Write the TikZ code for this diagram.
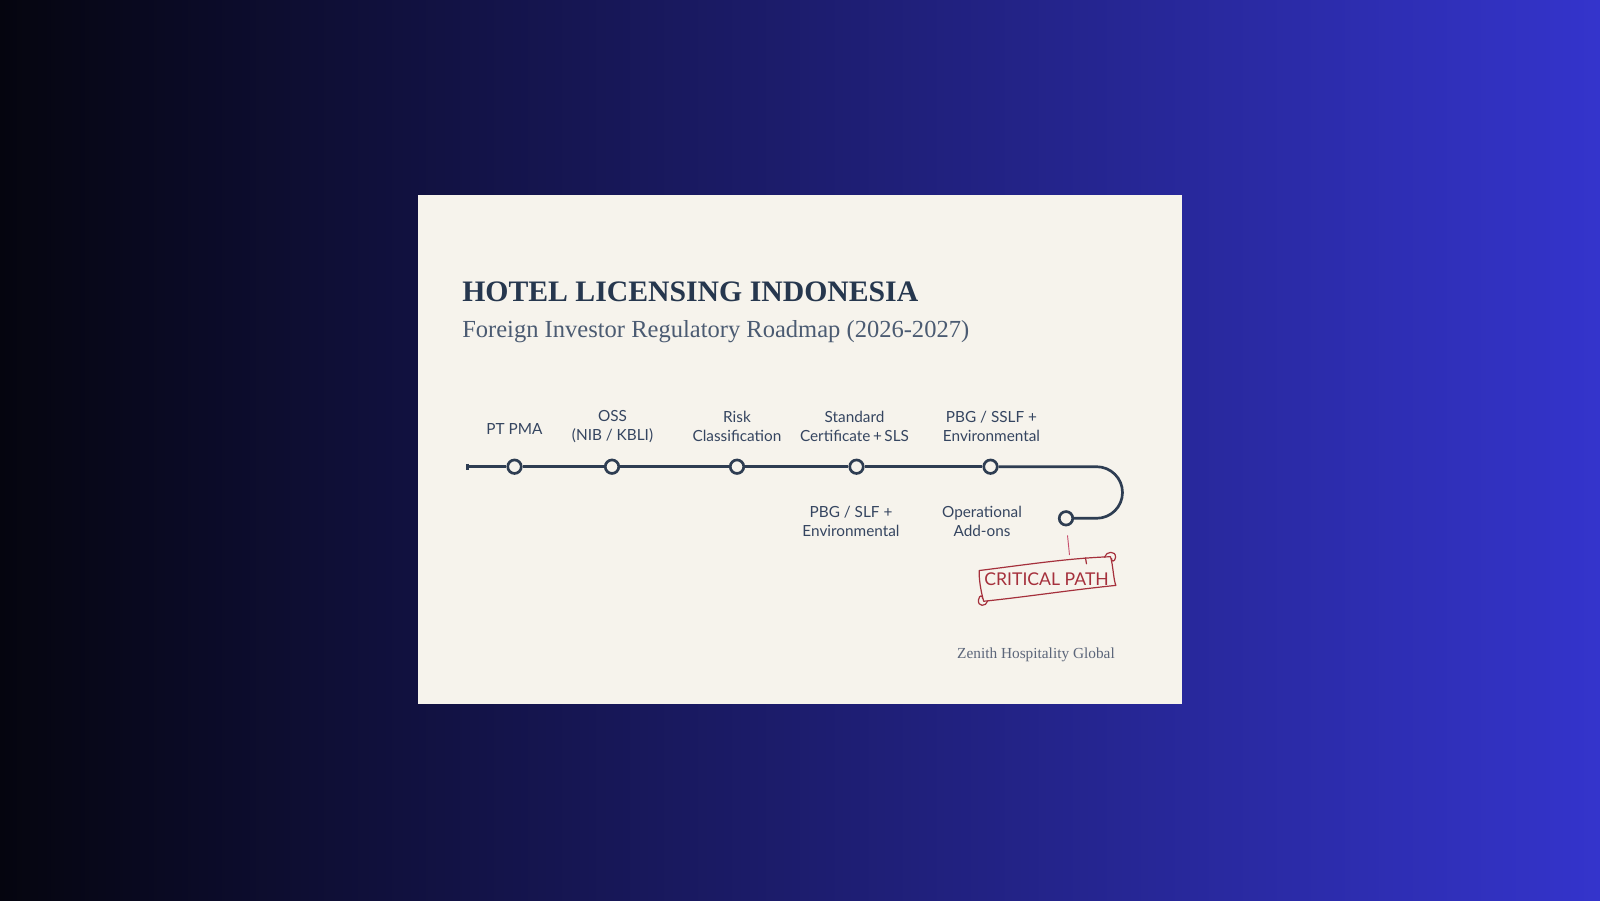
\documentclass[tikz,border=0pt]{standalone}
\usepackage{fontspec}
\setmainfont{Liberation Serif}
\newfontfamily\labelfont{Lato}
\definecolor{bgL}{HTML}{05050F}
\definecolor{bgR}{HTML}{3434CC}
\definecolor{card}{HTML}{F6F3EC}
\definecolor{titlec}{HTML}{26374E}
\definecolor{subc}{HTML}{4B5B72}
\definecolor{labc}{HTML}{354560}
\definecolor{linec}{HTML}{2E3D52}
\definecolor{stampc}{HTML}{A5303C}
\definecolor{pinc}{HTML}{C8506E}
\definecolor{footc}{HTML}{5C667A}
\tikzset{
  milestone/.style={circle, draw=linec, line width=2pt, fill=card, minimum size=13.5*0.75pt, inner sep=0pt},
  track/.style={draw=linec, line width=2pt},
  lbl/.style={text=labc, align=center, inner sep=0pt, font=\labelfont\fontsize{11.5pt}{14.6pt}\selectfont},
  stampline/.style={draw=stampc, line width=0.9pt, line join=round, line cap=round},
}
\begin{document}
\begin{tikzpicture}[x=0.75pt, y=-0.75pt]
\useasboundingbox (0,0) rectangle (1600,900);
\shade[left color=bgL, right color=bgR] (0,0) rectangle (1600,900);
\fill[card] (417.5,195) rectangle (1182,704);

% title
\node[anchor=base west, inner sep=0pt, text=titlec, font=\bfseries\fontsize{22.3pt}{26pt}\selectfont] (title) at (462,301) {HOTEL LICENSING INDONESIA};
\node[anchor=base west, inner sep=0pt, text=subc, font=\fontsize{18.4pt}{22pt}\selectfont] (subtitle) at (462,337.5) {Foreign Investor Regulatory Roadmap (2026-2027)};

% timeline
\coordinate (s) at (467.5,466.7);
\node[milestone] (c1) at (514.5,466.7) {};
\node[milestone] (c2) at (612,466.7) {};
\node[milestone] (c3) at (737,466.7) {};
\node[milestone] (c4) at (856.5,466.7) {};
\node[milestone] (c5) at (990.5,466.7) {};
\node[milestone] (c6) at (1066,518.3) {};
\coordinate (a1) at (1096.5,466.7);
\coordinate (a2) at (1096.5,518.3);
\draw[track] ([yshift=2.2pt]s) -- ([yshift=-2.2pt]s);
\draw[track] (s) -- (c1);
\draw[track] (c1) -- (c2);
\draw[track] (c2) -- (c3);
\draw[track] (c3) -- (c4);
\draw[track] (c4) -- (c5);
\draw[track] (c5) -- (a1) arc[start angle=-90, end angle=90, x radius=26, y radius=25.8] -- (c6);

% labels above
\node[lbl] (l1) at (514.5,429) {PT PMA};
\node[lbl] (l2) at (612.5,426.5) {OSS\\(NIB / KBLI)};
\node[lbl] (l3) at (737,426.5) {Risk\\Classification};
\node[lbl] (l4) at (854.5,426.5) {Standard\\Certificate\,+\,SLS};
\node[lbl] (l5) at (991.5,426.5) {PBG / SSLF +\\Environmental};
% labels below
\node[lbl] (l6) at (851,521.5) {PBG / SLF +\\Environmental};
\node[lbl] (l7) at (982,521.5) {Operational\\Add-ons};

% critical path stamp
\coordinate (pinend) at (1069.5,555);
\draw[pinc, line width=0.7pt] (c6.south) ++(1.5,9) -- (pinend);
\begin{scope}[shift={(1047,578)}, rotate=4.7]
  \draw[stampline] (-67,-13) .. controls (-20,-15) and (25,-18) .. (65,-16)
     .. controls (67,-7) and (66,6) .. (68,13)
     .. controls (20,14) and (-20,17) .. (-65,18)
     .. controls (-67,8) and (-68,-4) .. (-67,-13) -- cycle;
  \draw[stampline] (59,-16) .. controls (61,-22) and (71,-22) .. (70,-15)
     .. controls (69,-10) and (65,-11) .. (66,-14);
  \draw[stampline] (-61,18) .. controls (-63,24) and (-72,23) .. (-70,16)
     .. controls (-69,11) and (-65,12) .. (-66,15);
  \draw[stampline] (40,-17) -- (40.5,-11);
  \node[inner sep=0pt, text=stampc, font=\labelfont\fontsize{13.2pt}{16pt}\selectfont] (stamp) at (-0.5,1.5) {CRITICAL PATH};
\end{scope}

% footer
\node[anchor=base east, inner sep=0pt, text=footc, font=\fontsize{11.5pt}{14pt}\selectfont] (footer) at (1115,658) {Zenith Hospitality Global};
\end{tikzpicture}
\end{document}
